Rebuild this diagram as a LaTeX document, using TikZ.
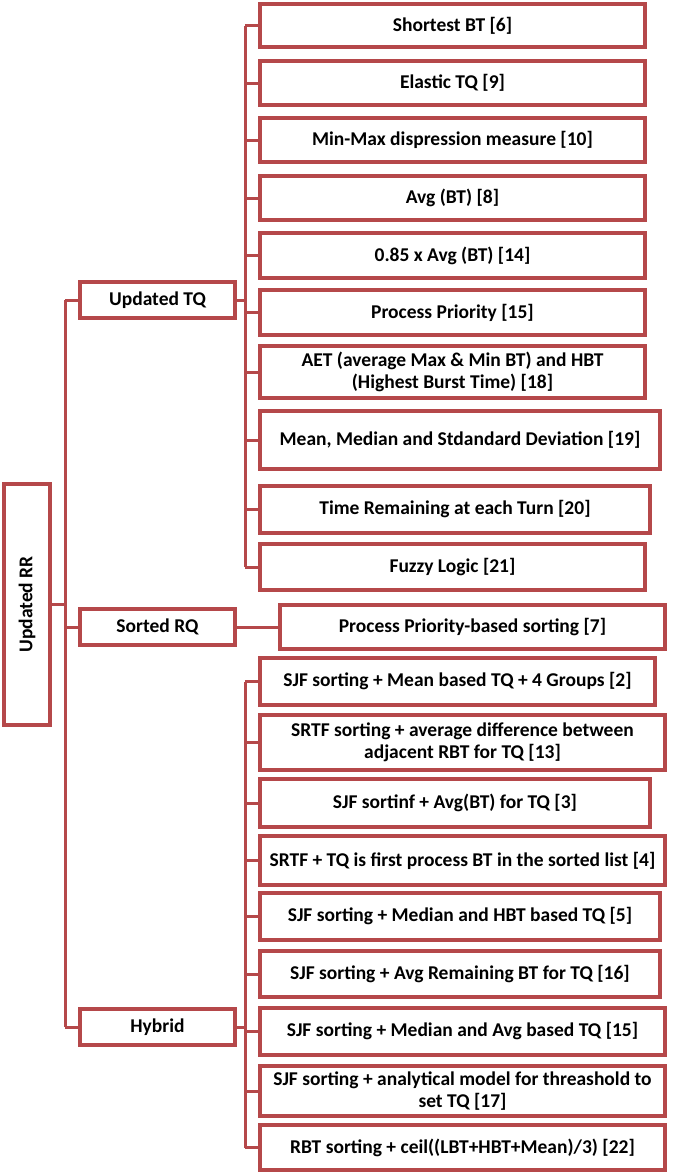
\documentclass[tikz,border=0pt]{standalone}
\usepackage{fontspec}
\setmainfont{Carlito}
\definecolor{br}{HTML}{B5484A}
\begin{document}
\begin{tikzpicture}[x=1pt,y=-1pt,
  bx/.style={draw=br,line width=3.5pt,fill=white,inner sep=0pt,font=\bfseries\fontsize{19.5}{22}\selectfont,align=center},
  ln/.style={draw=br,line width=3pt}]
\useasboundingbox (0,0) rectangle (685,1173);
\newcommand\B[6]{\node[bx,minimum width=#3-#2,minimum height=#5-#4] (#1) at ({(#2+#3)/2},{(#4+#5)/2}) {#6};}
\B{rr}{4}{50}{484}{725}{}
\node[rotate=90,font=\bfseries\fontsize{19.5}{22}\selectfont] at (rr) {Updated RR};
\B{tq}{80}{235}{282}{318}{Updated TQ}
\B{rq}{80}{235}{609}{645}{Sorted RQ}
\B{hy}{80}{235}{1009}{1045}{Hybrid}
\B{a1}{260}{645}{4}{47}{Shortest BT [6]}
\B{a2}{260}{645}{61}{105}{Elastic TQ [9]}
\B{a3}{260}{645}{118}{162}{Min-Max dispression measure [10]}
\B{a4}{260}{645}{176}{220}{Avg (BT) [8]}
\B{a5}{260}{645}{233}{278}{0.85 x Avg (BT) [14]}
\B{a6}{260}{645}{290}{335}{Process Priority [15]}
\B{a7}{260}{645}{346}{398}{AET (average Max \& Min BT) and HBT\\(Highest Burst Time) [18]}
\B{a8}{260}{660}{411}{469}{Mean, Median and Stdandard Deviation [19]}
\B{a9}{260}{650}{486}{533}{Time Remaining at each Turn [20]}
\B{a10}{260}{645}{544}{590}{Fuzzy Logic [21]}
\B{r1}{280}{665}{605}{649}{Process Priority-based sorting [7]}
\B{h1}{260}{655}{658}{705}{SJF sorting + Mean based TQ + 4 Groups [2]}
\B{h2}{260}{665}{715}{770}{SRTF sorting + average difference between\\adjacent RBT for TQ [13]}
\B{h3}{260}{650}{779}{827}{SJF sortinf + Avg(BT) for TQ [3]}
\B{h4}{260}{665}{836}{885}{SRTF + TQ is first process BT in the sorted list [4]}
\B{h5}{260}{660}{893}{940}{SJF sorting + Median and HBT based TQ [5]}
\B{h6}{260}{660}{951}{997}{SJF sorting + Avg Remaining BT for TQ [16]}
\B{h7}{260}{665}{1008}{1055}{SJF sorting + Median and Avg based TQ [15]}
\B{h8}{260}{665}{1066}{1116}{SJF sorting + analytical model for threashold to\\set TQ [17]}
\B{h9}{260}{665}{1125}{1170}{RBT sorting + ceil((LBT+HBT+Mean)/3) [22]}
\coordinate (t1) at (65,300);
\coordinate (t2) at (65,1027);
\draw[ln] (rr.east) -- (65,604.5);
\draw[ln] (t1) -- (t2);
\draw[ln] (t1) -- (tq.west);
\draw[ln] (65,627) -- (rq.west);
\draw[ln] (t2) -- (hy.west);
\draw[ln] (rq.east) -- (r1.west);
\draw[ln] (tq.east) -- (245,300);
\draw[ln] (245,25.5) -- (245,567);
\foreach \n in {a1,a2,a3,a4,a5,a6,a7,a8,a9,a10} \draw[ln] (245,0|-\n.west) -- (\n.west);
\draw[ln] (hy.east) -- (245,1027);
\draw[ln] (245,681.5) -- (245,1147.5);
\foreach \n in {h1,h2,h3,h4,h5,h6,h7,h8,h9} \draw[ln] (245,0|-\n.west) -- (\n.west);
\end{tikzpicture}
\end{document}
